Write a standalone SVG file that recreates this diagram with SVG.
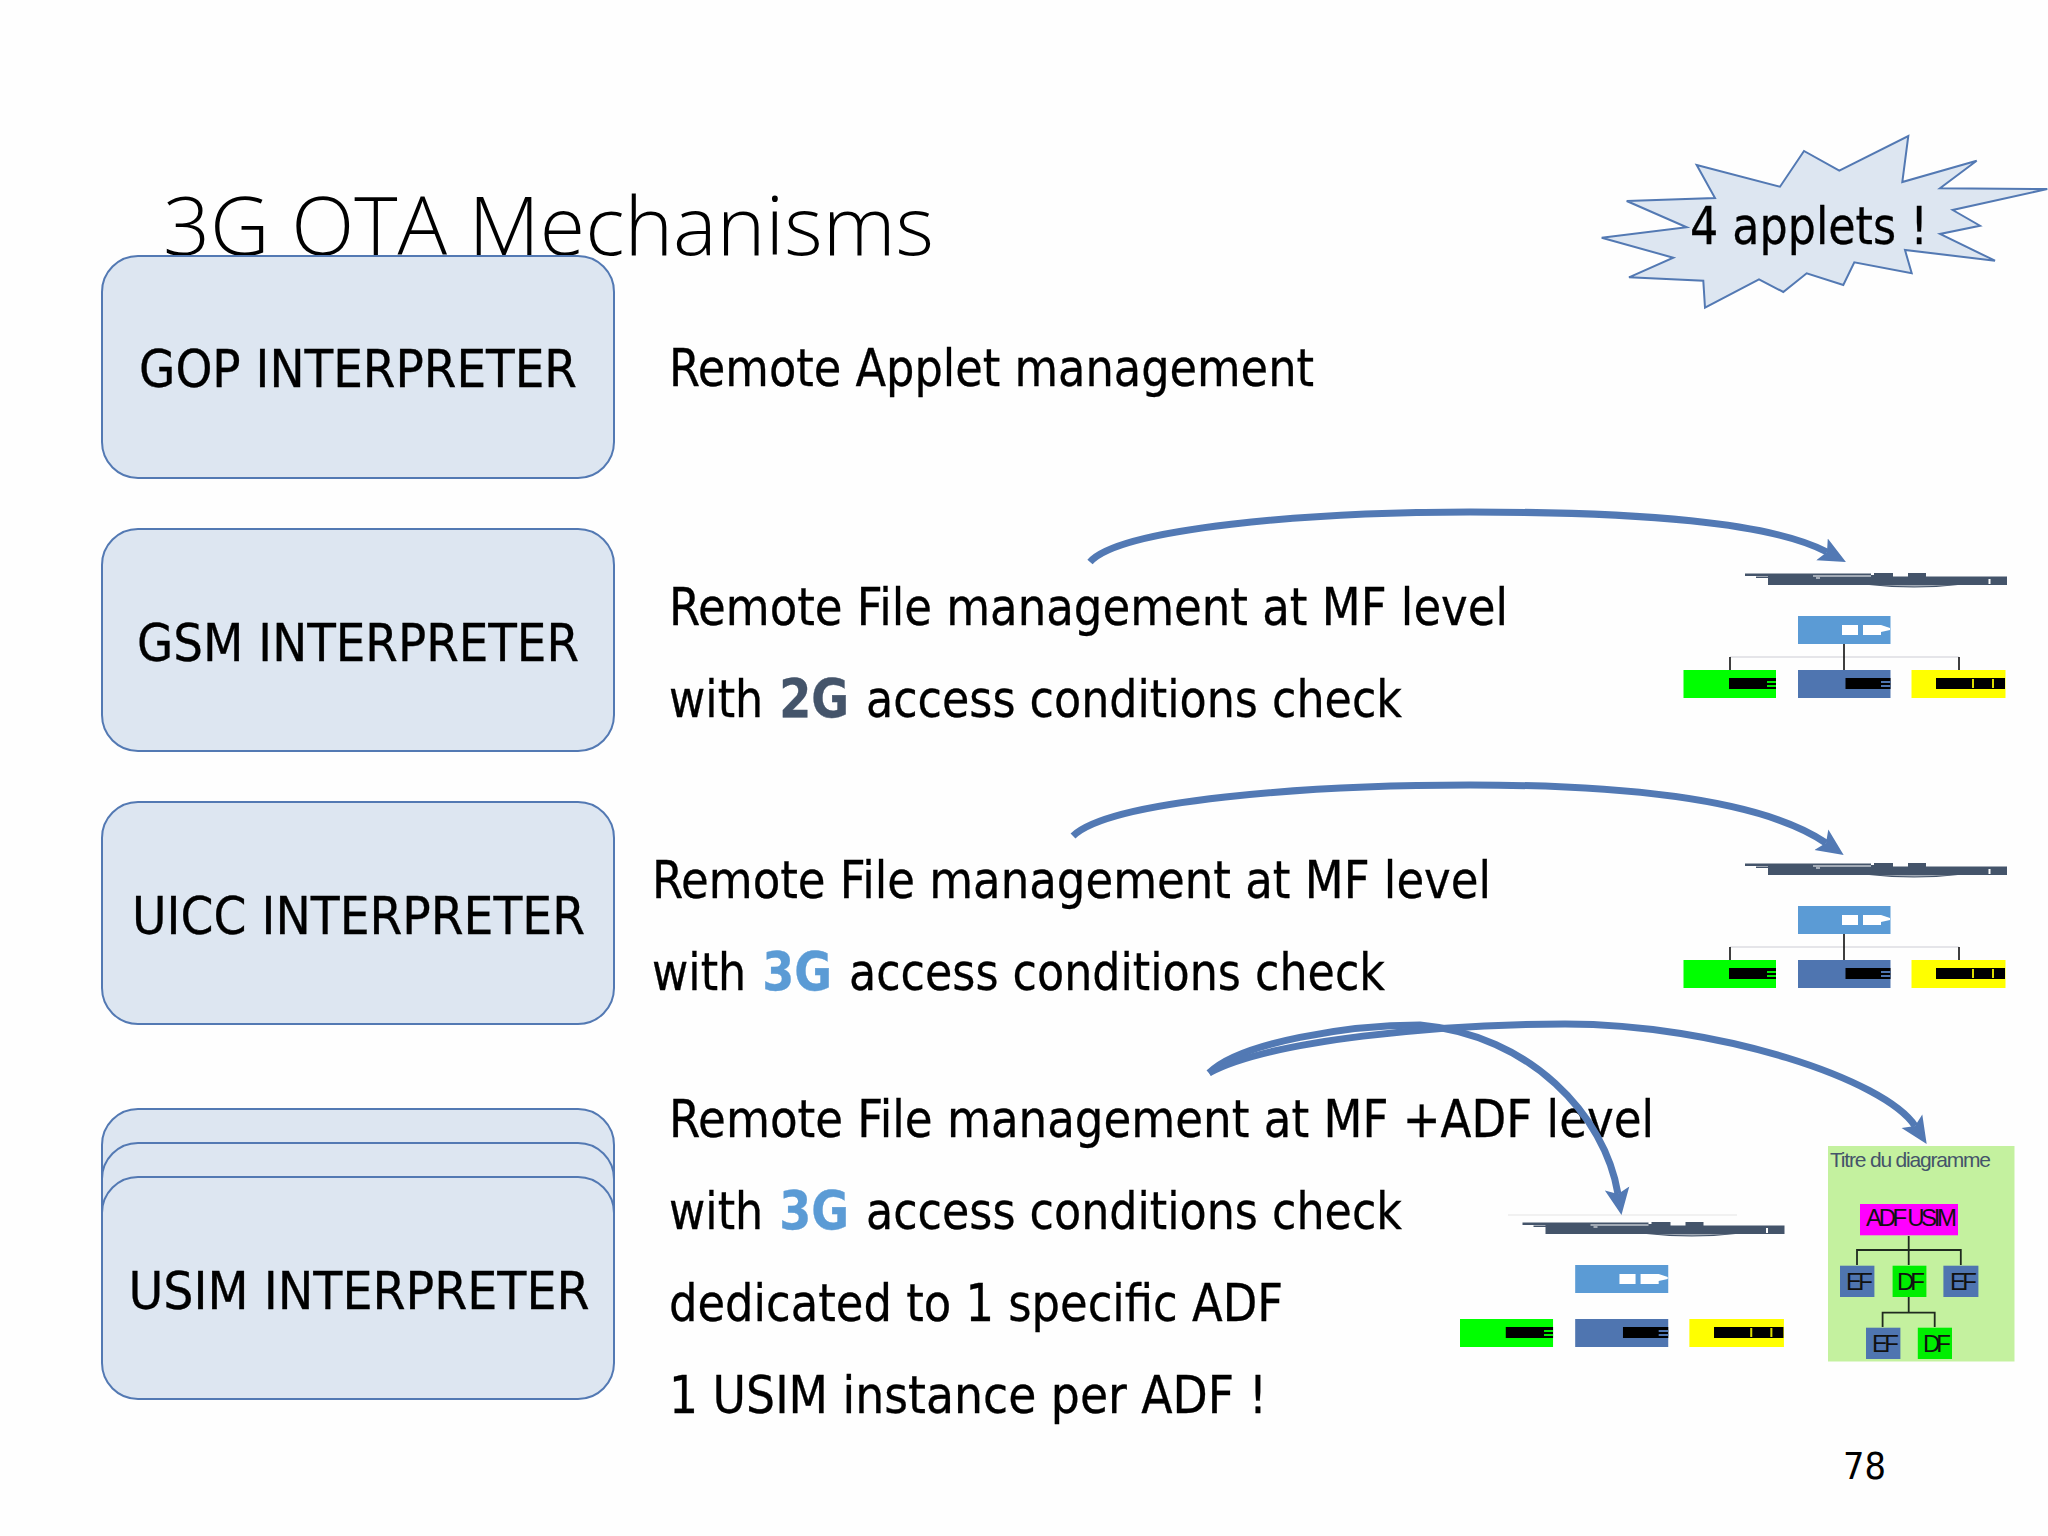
<svg xmlns="http://www.w3.org/2000/svg" xmlns:xlink="http://www.w3.org/1999/xlink" width="2048" height="1536" viewBox="0 0 2048 1536">
<style>
.box{fill:#dde6f1;stroke:#5379b3;stroke-width:2}
.t{font-family:"DejaVu Sans","Noto Sans",sans-serif;font-stretch:condensed;font-size:52px;fill:#000;stroke:#000;stroke-width:.3}
.b{font-weight:bold;font-size:54px}
.title{font-family:"Open Sans","Lato",sans-serif;font-weight:300;font-size:81px;fill:#000}
.arc{fill:none;stroke:#5279b4;stroke-width:7;marker-end:url(#head)}
.mini{font-family:"Liberation Sans",sans-serif;font-size:24px;fill:#111;text-anchor:start}
.ln{stroke:#1f2a1f;stroke-width:1.800;fill:none}
</style>
<defs>
<marker id="head" markerUnits="userSpaceOnUse" markerWidth="27" markerHeight="27" viewBox="0 0 24 24" refX="5" refY="12" orient="auto">
<path d="M0 1L24 12L0 23L5 12Z" fill="#5279b4"/>
</marker>
<g id="smear">
<path fill="#44546a" d="M1745 573.500H1871V575H1874V573H1893V576.500H1908V573H1926V576.500H2007V585H1958Q1915 590 1869 585H1768V578H1756V576.500H1768V576H1745Z"/>
<path fill="#fff" d="M1813 575.500H1871V576.500H1813ZM1879 585.200Q1915 587.500 1950 585.200Q1915 586 1879 585.200ZM1988.500 579H1990.500V584H1988.500ZM1816 577.500H1820V578.500H1816Z"/>
</g>
<g id="tree">
<rect x="1798" y="616" width="92.500" height="28" fill="#5b9bd5"/>
<path fill="#fff" d="M1842 625H1858V635H1842ZM1863 625H1881L1890 628V630L1881 632V635H1863Z"/>
<rect x="1683.500" y="670" width="92.500" height="28" fill="#00ff00"/>
<rect x="1729" y="678" width="47" height="11" fill="#000"/>
<path fill="#00ee00" d="M1767 681H1776V683H1767ZM1767 685H1776V687H1767Z"/>
<rect x="1798" y="670" width="92.500" height="28" fill="#4f75b0"/>
<rect x="1845.500" y="678" width="45" height="11" fill="#000"/>
<path fill="#4f75b0" d="M1881 681H1890.500V683H1881ZM1881 685H1890.500V687H1881Z"/>
<rect x="1911.500" y="670" width="94" height="28" fill="#ffff00"/>
<rect x="1936" y="678" width="69" height="11" fill="#000"/>
<path fill="#dddd00" d="M1972 679H1974V688H1972ZM1992 679H1994V688H1992Z"/>
</g>
</defs>
<rect id="background" width="2048" height="1536" fill="#fefefe"/>
<text id="title" class="title" x="163" y="255" textLength="771" lengthAdjust="spacingAndGlyphs">3G OTA Mechanisms</text>
<g id="gop"><rect class="box" x="102" y="256" width="512" height="222" rx="36"/><text class="t" x="139" y="387" textLength="438" lengthAdjust="spacingAndGlyphs">GOP INTERPRETER</text></g>
<g id="gsm"><rect class="box" x="102" y="529" width="512" height="222" rx="36"/><text class="t" x="137" y="661" textLength="442" lengthAdjust="spacingAndGlyphs">GSM INTERPRETER</text></g>
<g id="uicc"><rect class="box" x="102" y="802" width="512" height="222" rx="36"/><text class="t" x="132" y="934" textLength="453" lengthAdjust="spacingAndGlyphs">UICC INTERPRETER</text></g>
<g id="usim"><rect class="box" x="102" y="1109" width="512" height="222" rx="36"/><rect class="box" x="102" y="1143" width="512" height="222" rx="36"/><rect class="box" x="102" y="1177" width="512" height="222" rx="36"/><text class="t" x="128.500" y="1309" textLength="461" lengthAdjust="spacingAndGlyphs">USIM INTERPRETER</text></g>
<g id="burst"><path class="box" stroke-width="2.500" d="M1696.700 165L1780 186.700L1804 151L1839.300 170.700L1908.300 136L1902.300 182L1976.700 160.700L1940 188.300L2047.300 189L1952.700 210L1980 225.700L1940 234L1995 260.700L1905 250L1911.700 273.300L1854.300 262.300L1843.300 285L1806.700 273.300L1783.300 292L1759 279.300L1705 307.700L1703.300 280.700L1629 277.300L1673.300 257.700L1601.700 237.700L1686.700 227.300L1626.700 201L1715 198Z"/><text class="t" x="1690" y="244" textLength="238" lengthAdjust="spacingAndGlyphs">4 applets !</text></g>
<g id="descriptions">
<text class="t" x="669" y="385.500" textLength="645" lengthAdjust="spacingAndGlyphs">Remote Applet management</text>
<text class="t" x="669" y="625" textLength="839" lengthAdjust="spacingAndGlyphs">Remote File management at MF level</text>
<text class="t" x="669" y="717" textLength="733" lengthAdjust="spacingAndGlyphs">with <tspan class="b" fill="#44546a" stroke="#44546a" dx="2">2G</tspan><tspan dx="3"> access conditions check</tspan></text>
<text class="t" x="652" y="898" textLength="839" lengthAdjust="spacingAndGlyphs">Remote File management at MF level</text>
<text class="t" x="652" y="990" textLength="733" lengthAdjust="spacingAndGlyphs">with <tspan class="b" fill="#5b9bd5" stroke="#5b9bd5" dx="2">3G</tspan><tspan dx="3"> access conditions check</tspan></text>
<text class="t" x="669" y="1137" textLength="985" lengthAdjust="spacingAndGlyphs">Remote File management at MF +ADF level</text>
<text class="t" x="669" y="1229" textLength="733" lengthAdjust="spacingAndGlyphs">with <tspan class="b" fill="#5b9bd5" stroke="#5b9bd5" dx="2">3G</tspan><tspan dx="3"> access conditions check</tspan></text>
<text class="t" x="669" y="1321" textLength="614" lengthAdjust="spacingAndGlyphs">dedicated to 1 specific ADF</text>
<text class="t" x="669" y="1413" textLength="598" lengthAdjust="spacingAndGlyphs">1 USIM instance per ADF !</text>
</g>
<g id="chart1"><use xlink:href="#smear" href="#smear"/><path d="M1730 657H1959" stroke="#dcdce2" stroke-width="1.500"/><path d="M1844 644V670M1730 657V670M1959 657V670" stroke="#000" stroke-width="1.500"/><use xlink:href="#tree" href="#tree"/></g>
<g id="chart2" transform="translate(0 290)"><use xlink:href="#smear" href="#smear"/><path d="M1730 657H1959" stroke="#dcdce2" stroke-width="1.500"/><path d="M1844 644V670M1730 657V670M1959 657V670" stroke="#000" stroke-width="1.500"/><use xlink:href="#tree" href="#tree"/></g>
<g id="chart3"><path d="M1508 1215H1737" stroke="#ececec" stroke-width="1.500"/><g transform="translate(-222.500 649)"><use xlink:href="#smear" href="#smear"/></g><g transform="translate(1460 649) scale(1.006 1) translate(-1683.500 0)"><use xlink:href="#tree" href="#tree"/></g></g>
<g id="chart4">
<rect x="1828" y="1146" width="186.500" height="215.500" fill="#c4f19f"/>
<text x="1830" y="1167" font-family="Liberation Sans,sans-serif" font-size="21" fill="#44546a" textLength="161" lengthAdjust="spacing">Titre du diagramme</text>
<path class="ln" d="M1908.700 1236V1265M1857 1265V1250H1960.800V1265M1908.700 1297V1312.700M1882.600 1327V1312.700H1934.700V1327"/>
<rect x="1860" y="1204" width="98" height="31.300" fill="#ff00ff"/>
<text class="mini" x="1866" y="1226" textLength="91" lengthAdjust="spacing">ADF USIM</text>
<g id="ef1"><rect x="1840" y="1265.700" width="34.400" height="31.300" fill="#4f75b0"/><text class="mini" x="1846" y="1290" textLength="27" lengthAdjust="spacing">EF</text></g>
<g id="df1"><rect x="1892.600" y="1265.700" width="33.800" height="31.300" fill="#00ee00"/><text class="mini" x="1897" y="1290" textLength="28" lengthAdjust="spacing">DF</text></g>
<g id="ef2"><rect x="1943.400" y="1265.700" width="35" height="31.300" fill="#4f75b0"/><text class="mini" x="1950" y="1290" textLength="27" lengthAdjust="spacing">EF</text></g>
<g id="ef3"><rect x="1866" y="1327.700" width="34.400" height="31.300" fill="#4f75b0"/><text class="mini" x="1872" y="1352" textLength="27" lengthAdjust="spacing">EF</text></g>
<g id="df2"><rect x="1917.800" y="1327.700" width="34.200" height="31.300" fill="#00ee00"/><text class="mini" x="1923" y="1352" textLength="28" lengthAdjust="spacing">DF</text></g>
</g>
<text id="page" x="1843" y="1479" font-family="DejaVu Sans,sans-serif" font-stretch="condensed" font-size="38" textLength="43" lengthAdjust="spacingAndGlyphs">78</text>
<g id="connectors">
<path class="arc" d="M1090 562C1120 528 1310 512 1470 512C1640 512 1770 522 1827 552"/>
<path class="arc" d="M1073 836C1110 800 1310 785 1470 785C1620 785 1760 798 1826 843"/>
<path class="arc" d="M1209 1073C1240 1042 1350 1025 1420 1025C1530 1035 1605 1115 1618 1194"/>
<path class="arc" d="M1209 1073C1270 1040 1440 1024 1565 1024C1720 1024 1885 1080 1915 1126"/>
</g>
</svg>
